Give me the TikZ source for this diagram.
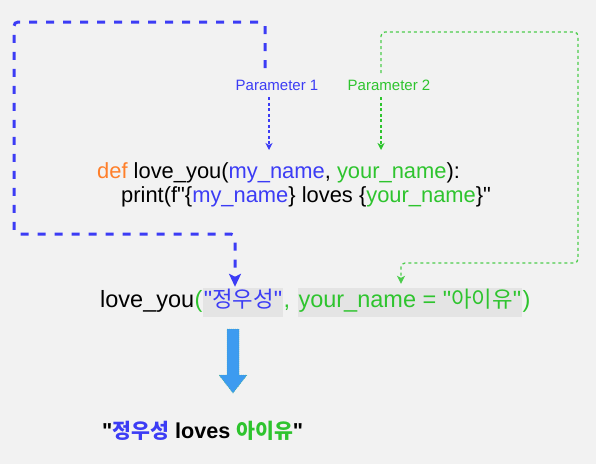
\documentclass[tikz,border=0pt]{standalone}
\usepackage{fontspec}
\setmainfont{Liberation Sans}
\newfontfamily\kor[Scale=0.95]{Noto Sans CJK KR}
\usetikzlibrary{arrows.meta,positioning,calc}

\definecolor{bgcol}{HTML}{F2F2F2}
\definecolor{hlgray}{HTML}{E4E4E4}
\definecolor{codeblue}{HTML}{3C3CF5}
\definecolor{codegreen}{HTML}{2EC42E}
\definecolor{deforange}{HTML}{FF7F2A}
\definecolor{bigblue}{HTML}{3D9BF0}

\newcommand{\dq}{\textquotedbl}

\tikzset{
  codeline/.style={inner sep=0pt, anchor=base west, font=\fontsize{21.9pt}{26pt}\selectfont},
  callpart/.style={inner sep=0pt, anchor=base west, font=\fontsize{23.5pt}{28pt}\selectfont},
  hlbox/.style={fill=hlgray, inner xsep=1pt, inner ysep=0pt, text height=19pt, text depth=10pt},
  paramlabel/.style={inner sep=0pt, anchor=base, font=\fontsize{15pt}{18pt}\selectfont},
  bluedash/.style={codeblue, line width=3pt, dash pattern=on 8pt off 9pt, rounded corners=4pt,
    -{Stealth[width=12pt,length=13pt,inset=3pt]}},
  greendot/.style={codegreen!85!white, line width=1.3pt, dash pattern=on 3pt off 3pt, rounded corners=4pt,
    -{Stealth[width=8pt,length=8pt,inset=2pt]}},
  parrow/.style={line width=1.1pt, dash pattern=on 3pt off 2.5pt, -{Stealth[width=7pt,length=7pt,inset=2pt]}}
}

\begin{document}
\begin{tikzpicture}[x=1pt, y=-1pt]
    \fill[bgcol] (0,0) rectangle (596,464);

    % parameter labels
    \node[paramlabel, codeblue] (p1) at (277,90) {Parameter 1};
    \node[paramlabel, codegreen] (p2) at (389,90) {Parameter 2};

    % function definition
    \node[codeline] (def) at (97,178) {{\color{deforange}def} love\_you({\color{codeblue}my\_name}, {\color{codegreen}your\_name}):};
    \node[codeline] (body) at (121,202) {print(f\dq\{{\color{codeblue}my\_name}\} loves \{{\color{codegreen}your\_name}\}\dq};

    % function call
    \node[callpart] (fn) at (100,307) {love\_you};
    \node[callpart, codegreen] (open) at (fn.base east) {(};
    \node[callpart, hlbox, text=codeblue] (arg1) at (open.base east) {\dq{\kor 정우성}\dq};
    \node[callpart, codegreen] (comma) at (arg1.base east) {,\kern7pt};
    \node[callpart, hlbox, text=codegreen] (arg2) at (comma.base east) {your\_name = \dq{\kor 아이유}\dq};
    \node[callpart, codegreen] (close) at (arg2.base east) {)};

    % result
    \node[inner sep=0pt, anchor=base west, font=\fontsize{21.6pt}{26pt}\selectfont\bfseries] (res) at (102,438)
        {\dq{\color{codeblue}\kor 정우성} loves {\color{codegreen}\kor 아이유}\dq};

    % parameter arrows
    \draw[parrow, codeblue] ([xshift=-8pt,yshift=-7pt]p1.south) -- ([xshift=-8pt]p1.south |- 0,150);
    \draw[parrow, codegreen] ([xshift=-8pt,yshift=-7pt]p2.south) -- ([xshift=-8pt]p2.south |- 0,150);

    % argument routes
    \draw[bluedash] (265,68) -- (265,22) -- (14,22) -- (14,234) -- (235,234) -- ([yshift=1pt]arg1.north -| 235,0);
    \draw[greendot] (381,73) -- (381,32) -- (578,32) -- (578,263) -- (401,263) -- ([yshift=4pt]arg2.north -| 401,0);

    % big arrow
    \filldraw[fill=bigblue, draw=codegreen!50!bigblue, line width=0.4pt, dash pattern=on 1pt off 1pt]
        (227,329) -- (239,329) -- (239,375) -- (247,375) -- (233,393) -- (219,375) -- (227,375) -- cycle;
\end{tikzpicture}
\end{document}
